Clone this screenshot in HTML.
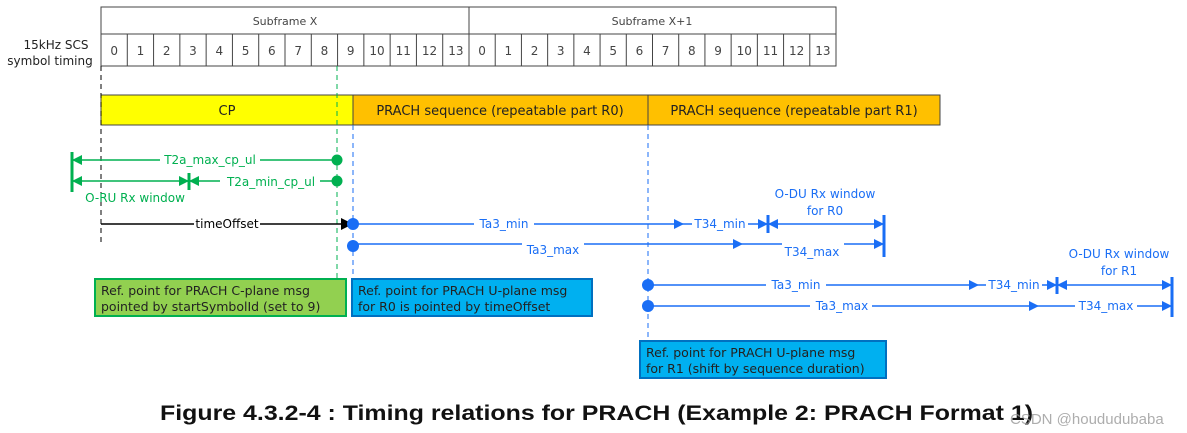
<!DOCTYPE html>
<html><head><meta charset="utf-8"><style>
html,body{margin:0;padding:0;background:#fff;}
svg{display:block;}
text{font-family:"DejaVu Sans","Liberation Sans",sans-serif;}
</style></head><body>
<svg width="1187" height="433" viewBox="0 0 1187 433" xmlns="http://www.w3.org/2000/svg">
<defs>
<marker id="bl" markerWidth="10" markerHeight="10" refX="9" refY="5" orient="auto-start-reverse" markerUnits="userSpaceOnUse"><path d="M0,0 L10,5 L0,10 Z" fill="#1a6ef5"/></marker>
<marker id="gl" markerWidth="10" markerHeight="10" refX="9" refY="5" orient="auto-start-reverse" markerUnits="userSpaceOnUse"><path d="M0,0 L10,5 L0,10 Z" fill="#00b050"/></marker>
<marker id="kl" markerWidth="12" markerHeight="12" refX="11" refY="6" orient="auto" markerUnits="userSpaceOnUse"><path d="M0,0 L12,6 L0,12 Z" fill="#000"/></marker>
</defs>
<!-- grid -->
<g stroke="#444" stroke-width="1" fill="none">
<rect x="101" y="7" width="735" height="59"/>
<line x1="101" y1="34" x2="836" y2="34"/>
<line x1="469" y1="7" x2="469" y2="66"/>
</g>
<g id="cells" stroke="#444" stroke-width="1"></g>
<text x="285" y="25" font-size="11" fill="#444" text-anchor="middle">Subframe X</text>
<text x="652" y="25" font-size="11" fill="#444" text-anchor="middle">Subframe X+1</text>
<g id="nums" font-size="12" fill="#444" text-anchor="middle" font-family="Liberation Serif,serif"></g>
<text x="56" y="49" font-size="12" fill="#222" text-anchor="middle">15kHz SCS</text>
<text x="50" y="65" font-size="12" fill="#222" text-anchor="middle">symbol timing</text>
<!-- bars -->
<rect x="101" y="95" width="252" height="30" fill="#ffff00" stroke="#444"/>
<rect x="353" y="95" width="295" height="30" fill="#ffc000" stroke="#444"/>
<rect x="648" y="95" width="292" height="30" fill="#ffc000" stroke="#444"/>
<text x="227" y="115" font-size="13" text-anchor="middle" fill="#222">CP</text>
<text x="500" y="115" font-size="13" text-anchor="middle" fill="#222">PRACH sequence (repeatable part R0)</text>
<text x="794" y="115" font-size="13" text-anchor="middle" fill="#222">PRACH sequence (repeatable part R1)</text>
<!-- dashed verticals -->
<line x1="101" y1="66" x2="101" y2="243" stroke="#000" stroke-dasharray="5,4"/>
<line x1="337" y1="66" x2="337" y2="290" stroke="#00b050" stroke-dasharray="5,4"/>
<line x1="353" y1="125" x2="353" y2="280" stroke="#1a6ef5" stroke-dasharray="5,4"/>
<line x1="648" y1="125" x2="648" y2="341" stroke="#1a6ef5" stroke-dasharray="5,4"/>
<!-- green -->
<g stroke="#00b050" stroke-width="1.5">
<line x1="72" y1="152" x2="72" y2="192" stroke-width="3"/>
<line x1="189" y1="173" x2="189" y2="190" stroke-width="3"/>
<line x1="337" y1="160" x2="73" y2="160" marker-end="url(#gl)"/>
<line x1="337" y1="181" x2="190" y2="181" marker-end="url(#gl)"/>
<line x1="73" y1="181" x2="188" y2="181" marker-start="url(#gl)" marker-end="url(#gl)"/>
</g>
<circle cx="337" cy="160" r="5.5" fill="#00b050"/>
<circle cx="337" cy="181" r="5.5" fill="#00b050"/>
<rect x="160" y="152" width="100" height="15" fill="#fff"/>
<text x="210" y="164" font-size="12" fill="#00b050" text-anchor="middle">T2a_max_cp_ul</text>
<rect x="220" y="174" width="100" height="15" fill="#fff"/>
<text x="271" y="186" font-size="12" fill="#00b050" text-anchor="middle">T2a_min_cp_ul</text>
<text x="135" y="202" font-size="12" fill="#00b050" text-anchor="middle">O-RU Rx window</text>
<!-- timeOffset -->
<line x1="101" y1="224" x2="352" y2="224" stroke="#000" stroke-width="1.5" marker-end="url(#kl)"/>
<rect x="194" y="216" width="66" height="15" fill="#fff"/>
<text x="227" y="228" font-size="12" fill="#000" text-anchor="middle">timeOffset</text>
<!-- blue R0 -->
<g stroke="#1a6ef5" stroke-width="1.5">
<line x1="353" y1="224" x2="683" y2="224" marker-end="url(#bl)"/>
<line x1="683" y1="224" x2="767" y2="224" marker-end="url(#bl)"/>
<line x1="769" y1="224" x2="883" y2="224" marker-start="url(#bl)" marker-end="url(#bl)"/>
<line x1="768" y1="215" x2="768" y2="233" stroke-width="3"/>
<line x1="884" y1="215" x2="884" y2="257" stroke-width="3"/>
<line x1="353" y1="244" x2="742" y2="244" marker-end="url(#bl)"/>
<line x1="742" y1="244" x2="883" y2="244" marker-end="url(#bl)"/>
</g>
<circle cx="353" cy="224" r="6" fill="#1a6ef5"/>
<circle cx="353" cy="246" r="6" fill="#1a6ef5"/>
<rect x="474" y="216" width="60" height="15" fill="#fff"/>
<text x="504" y="228" font-size="12" fill="#1a6ef5" text-anchor="middle">Ta3_min</text>
<rect x="522" y="243" width="62" height="15" fill="#fff"/>
<text x="553" y="254" font-size="12" fill="#1a6ef5" text-anchor="middle">Ta3_max</text>
<rect x="692" y="216" width="56" height="15" fill="#fff"/>
<text x="720" y="228" font-size="12" fill="#1a6ef5" text-anchor="middle">T34_min</text>
<rect x="782" y="243" width="62" height="15" fill="#fff"/>
<text x="812" y="256" font-size="12" fill="#1a6ef5" text-anchor="middle">T34_max</text>
<text x="825" y="198" font-size="12" fill="#1a6ef5" text-anchor="middle">O-DU Rx window</text>
<text x="825" y="215" font-size="12" fill="#1a6ef5" text-anchor="middle">for R0</text>
<!-- blue R1 -->
<g stroke="#1a6ef5" stroke-width="1.5">
<line x1="648" y1="285" x2="978" y2="285" marker-end="url(#bl)"/>
<line x1="978" y1="285" x2="1056" y2="285" marker-end="url(#bl)"/>
<line x1="1058" y1="285" x2="1171" y2="285" marker-start="url(#bl)" marker-end="url(#bl)"/>
<line x1="1057" y1="277" x2="1057" y2="294" stroke-width="3"/>
<line x1="1172" y1="277" x2="1172" y2="317" stroke-width="3"/>
<line x1="648" y1="306" x2="1038" y2="306" marker-end="url(#bl)"/>
<line x1="1038" y1="306" x2="1171" y2="306" marker-end="url(#bl)"/>
</g>
<circle cx="648" cy="285" r="6" fill="#1a6ef5"/>
<circle cx="648" cy="306" r="6" fill="#1a6ef5"/>
<rect x="766" y="277" width="60" height="15" fill="#fff"/>
<text x="796" y="289" font-size="12" fill="#1a6ef5" text-anchor="middle">Ta3_min</text>
<rect x="810" y="298" width="62" height="15" fill="#fff"/>
<text x="842" y="310" font-size="12" fill="#1a6ef5" text-anchor="middle">Ta3_max</text>
<rect x="986" y="277" width="56" height="15" fill="#fff"/>
<text x="1014" y="289" font-size="12" fill="#1a6ef5" text-anchor="middle">T34_min</text>
<rect x="1075" y="298" width="62" height="15" fill="#fff"/>
<text x="1106" y="310" font-size="12" fill="#1a6ef5" text-anchor="middle">T34_max</text>
<text x="1119" y="258" font-size="12" fill="#1a6ef5" text-anchor="middle">O-DU Rx window</text>
<text x="1119" y="275" font-size="12" fill="#1a6ef5" text-anchor="middle">for R1</text>
<!-- boxes -->
<rect x="95" y="279" width="251" height="37" fill="#92d050" stroke="#00b050" stroke-width="2"/>
<text x="101" y="295" font-size="12.5" fill="#222">Ref. point for PRACH C-plane msg</text>
<text x="101" y="311" font-size="12.5" fill="#222">pointed by startSymbolId (set to 9)</text>
<rect x="352" y="279" width="240" height="37" fill="#00b0f0" stroke="#0070c0" stroke-width="2"/>
<text x="358" y="295" font-size="12.5" fill="#222">Ref. point for PRACH U-plane msg</text>
<text x="358" y="311" font-size="12.5" fill="#222">for R0 is pointed by timeOffset</text>
<rect x="640" y="341" width="246" height="37" fill="#00b0f0" stroke="#0070c0" stroke-width="2"/>
<text x="646" y="357" font-size="12.5" fill="#222">Ref. point for PRACH U-plane msg</text>
<text x="646" y="373" font-size="12.5" fill="#222">for R1 (shift by sequence duration)</text>
<!-- caption -->
<text x="160" y="420" font-size="21" font-weight="bold" fill="#111" textLength="873" lengthAdjust="spacingAndGlyphs" style="font-family:'Liberation Sans',sans-serif">Figure 4.3.2-4 : Timing relations for PRACH (Example 2: PRACH Format 1)</text>
<text x="1010" y="424" font-size="15" fill="#999" fill-opacity="0.8" style="font-family:'Liberation Sans',sans-serif">CSDN @hoududubaba</text>
</svg>
<script>
(function(){
var ns="http://www.w3.org/2000/svg",c=document.getElementById("cells"),n=document.getElementById("nums");
for(var s=0;s<2;s++){var x0=s?469:101,w=(s?367:368)/14;
for(var i=0;i<14;i++){var x=x0+i*w;
if(i>0){var l=document.createElementNS(ns,"line");l.setAttribute("x1",x);l.setAttribute("x2",x);l.setAttribute("y1",34);l.setAttribute("y2",66);c.appendChild(l);}
var t=document.createElementNS(ns,"text");t.setAttribute("x",x+w/2);t.setAttribute("y",55);t.textContent=i;n.appendChild(t);}}
})();
</script>
</body></html>
